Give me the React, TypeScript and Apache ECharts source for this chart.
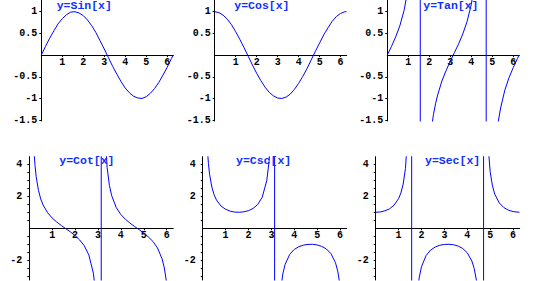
import { useEffect, useRef } from 'react';
import * as echarts from 'echarts';

// Sample points shared by the sine and cosine curves
const waveX = [0, 0.2, 0.4, 0.6, 0.8, 1.0, 1.2, 1.4, 1.6, 1.8, 2.0, 2.2, 2.4, 2.6, 2.8, 3.0, 3.2, 3.4, 3.6, 3.8, 4.0, 4.2, 4.4, 4.6, 4.8, 5.0, 5.2, 5.4, 5.6, 5.8, 6.0, 6.2, 6.28];
const sinY = [0, 0.2, 0.39, 0.56, 0.72, 0.84, 0.93, 0.99, 1.0, 0.97, 0.91, 0.81, 0.68, 0.52, 0.33, 0.14, -0.06, -0.26, -0.44, -0.61, -0.76, -0.87, -0.95, -0.99, -1.0, -0.96, -0.88, -0.77, -0.63, -0.46, -0.28, -0.08, 0];
const cosY = [1, 0.98, 0.92, 0.83, 0.7, 0.54, 0.36, 0.17, -0.03, -0.23, -0.42, -0.59, -0.74, -0.86, -0.94, -0.99, -1.0, -0.97, -0.9, -0.79, -0.65, -0.49, -0.31, -0.11, 0.09, 0.28, 0.47, 0.63, 0.78, 0.89, 0.96, 1.0, 1.0];

// Tangent, with the jumps across the poles kept as joined segments
const tanX = [0, 0.2, 0.4, 0.6, 0.8, 1.0, 1.2, 1.4, 1.5707, 1.5709, 1.8, 2.0, 2.1, 2.2, 2.3, 2.4, 2.6, 2.8, 3.0, 3.2, 3.4, 3.6, 3.8, 4.0, 4.2, 4.5, 4.7123, 4.7125, 5.0, 5.2, 5.3, 5.4, 5.6, 5.8, 6.0, 6.2, 6.28];
const tanY = [0, 0.2, 0.42, 0.68, 1.03, 1.56, 2.57, 5.8, 40, -40, -4.29, -2.19, -1.71, -1.37, -1.12, -0.92, -0.6, -0.36, -0.14, 0.06, 0.26, 0.49, 0.77, 1.16, 1.78, 4.64, 40, -40, -3.38, -1.86, -1.5, -1.22, -0.81, -0.52, -0.29, -0.08, 0];

const cotX = [0.2, 0.25, 0.3, 0.4, 0.5, 0.6, 0.8, 1.0, 1.2, 1.4, 1.6, 1.8, 2.0, 2.2, 2.4, 2.6, 2.8, 2.9, 3.1415, 3.1417, 3.3, 3.4, 3.5, 3.6, 3.8, 4.0, 4.2, 4.4, 4.6, 4.8, 5.0, 5.2, 5.4, 5.6, 5.8, 5.9, 6.0, 6.1];
const cotY = [4.93, 3.92, 3.23, 2.37, 1.83, 1.46, 0.97, 0.64, 0.39, 0.17, -0.03, -0.23, -0.46, -0.73, -1.09, -1.66, -2.81, -4.07, -40, 40, 6.28, 3.79, 2.67, 2.03, 1.29, 0.86, 0.56, 0.32, 0.11, -0.09, -0.3, -0.54, -0.82, -1.23, -1.91, -2.48, -3.44, -5.4];

const cscX = [0.2, 0.25, 0.3, 0.4, 0.5, 0.6, 0.8, 1.0, 1.2, 1.4, 1.6, 1.8, 2.0, 2.2, 2.4, 2.6, 2.8, 2.9, 3.0, 3.1415, 3.1417, 3.3, 3.4, 3.5, 3.6, 3.8, 4.0, 4.2, 4.4, 4.6, 4.8, 5.0, 5.2, 5.4, 5.6, 5.8, 5.9, 6.0, 6.1];
const cscY = [5.03, 4.04, 3.38, 2.57, 2.09, 1.77, 1.39, 1.19, 1.07, 1.01, 1.0, 1.03, 1.1, 1.24, 1.48, 1.94, 2.99, 4.19, 7.09, 40, -40, -6.33, -3.91, -2.85, -2.26, -1.63, -1.32, -1.15, -1.05, -1.01, -1.0, -1.04, -1.13, -1.29, -1.58, -2.15, -2.68, -3.58, -5.49];

const secX = [0, 0.2, 0.4, 0.6, 0.8, 1.0, 1.1, 1.2, 1.3, 1.4, 1.5707, 1.5709, 1.7, 1.8, 1.9, 2.0, 2.2, 2.4, 2.6, 2.8, 3.0, 3.2, 3.4, 3.6, 3.8, 4.0, 4.2, 4.3, 4.4, 4.5, 4.7123, 4.7125, 4.9, 5.0, 5.1, 5.2, 5.4, 5.6, 5.8, 6.0, 6.28];
const secY = [1.0, 1.02, 1.09, 1.21, 1.44, 1.85, 2.2, 2.76, 3.74, 5.88, 40, -40, -7.76, -4.4, -3.09, -2.4, -1.7, -1.36, -1.17, -1.06, -1.01, -1.0, -1.03, -1.11, -1.26, -1.53, -2.04, -2.5, -3.25, -4.74, -40, 40, 5.36, 3.53, 2.65, 2.13, 1.58, 1.29, 1.13, 1.04, 1.0];

// Tick marks and labels
const xTicks = [1, 2, 3, 4, 5, 6];
const topYTicks = [-1.5, -1, -0.5, 0.5, 1];
const bottomYLabels = [-2, 2, 4];
const bottomYTicks = [-3, -2.5, -2, -1.5, -1, -0.5, 0.5, 1, 1.5, 2, 2.5, 3, 3.5, 4];

const titles = ['y=Sin[x]', 'y=Cos[x]', 'y=Tan[x]', 'y=Cot[x]', 'y=Csc[x]', 'y=Sec[x]'];

const MONO = "'Liberation Mono', 'Courier New', monospace";
const CURVE = '#0000ff';
const TITLE = '#1030ff';

const rows = [
  { top: 0, height: 121, yMin: -1.52, yMax: 1.27, lefts: [41.3, 214.7, 387.3], width: 132, ticks: topYTicks, labels: topYTicks, labelMargin: 4, titlePos: [[56.7, 5], [234.3, 5], [423.3, 5]] },
  { top: 156.7, height: 123.3, yMin: -3.23, yMax: 4.47, lefts: [29.3, 202.7, 375.7], width: 144, ticks: bottomYTicks, labels: bottomYLabels, labelMargin: 7, titlePos: [[59.3, 160], [236, 160], [425, 160]] },
];

const curves = [
  [waveX, sinY], [waveX, cosY], [tanX, tanY],
  [cotX, cotY], [cscX, cscY], [secX, secY],
];

function buildOption() {
  const grid: any[] = [];
  const xAxis: any[] = [];
  const yAxis: any[] = [];
  const series: any[] = [];
  const graphic: any[] = [];
  const labelStyle = { fontFamily: MONO, fontSize: 10, fontWeight: 'bold', color: '#000' };

  curves.forEach(([xs, ys], i) => {
    const row = rows[Math.floor(i / 3)];
    const col = i % 3;
    // lift the x axis from the grid's bottom edge up to y = 0
    const zeroLift = (0 - row.yMin) / (row.yMax - row.yMin) * row.height;
    grid.push({ left: row.lefts[col], top: row.top, width: row.width, height: row.height, containLabel: false });
    xAxis.push({
      type: 'value', gridIndex: i, min: 0, max: 6.29, position: 'bottom', offset: -zeroLift,
      axisLine: { onZero: false, lineStyle: { color: '#000', width: 1 } },
      splitLine: { show: false },
      axisTick: { show: true, customValues: xTicks, length: 2, lineStyle: { color: '#000' } },
      axisLabel: { ...labelStyle, customValues: xTicks, margin: 2 },
    });
    yAxis.push({
      type: 'value', gridIndex: i, min: row.yMin, max: row.yMax,
      axisLine: { show: true, onZero: false, lineStyle: { color: '#000', width: 1 } },
      splitLine: { show: false },
      axisTick: { show: true, customValues: row.ticks, length: 2, lineStyle: { color: '#000' } },
      axisLabel: { ...labelStyle, customValues: row.labels, margin: row.labelMargin },
    });
    series.push({
      type: 'line', xAxisIndex: i, yAxisIndex: i,
      data: xs.map((x, k) => [x, ys[k]]),
      symbol: 'none', clip: true, silent: true,
      lineStyle: { color: CURVE, width: 1 },
    });
    const [tx, ty] = row.titlePos[col];
    graphic.push({
      type: 'text', x: tx, y: ty, z: 10,
      style: { text: titles[i], fill: TITLE, font: `bold 11.5px ${MONO}`, align: 'left', verticalAlign: 'middle' },
    });
  });

  return { animation: false, backgroundColor: '#fff', grid, xAxis, yAxis, series, graphic };
}

export default function App() {
  const ref = useRef<HTMLDivElement>(null);
  useEffect(() => {
    const chart = echarts.init(ref.current!, null, { renderer: 'svg' });
    chart.setOption(buildOption());
    return () => chart.dispose();
  }, []);
  return <div ref={ref} style={{ position: 'fixed', left: 0, top: 0, width: 534, height: 281, background: '#fff' }} />;
}
